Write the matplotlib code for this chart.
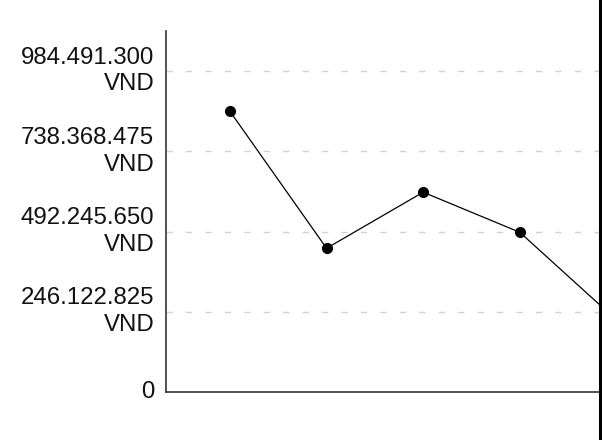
import matplotlib
matplotlib.use('Agg')
import matplotlib.pyplot as plt
from matplotlib.lines import Line2D

# values (VND); last point sits past the right edge
values = [861000000, 441000000, 613000000, 490000000, 221000000]
x_pos = list(range(len(values)))
tick_step = 246122825
tick_values = [0, tick_step, 2 * tick_step, 3 * tick_step, 4 * tick_step]
tick_labels = ['0', '246.122.825\nVND', '492.245.650\nVND', '738.368.475\nVND', '984.491.300\nVND']

plt.rcParams['font.family'] = ['Liberation Sans', 'DejaVu Sans']

fig = plt.figure(figsize=(6.02, 4.40), dpi=100)
ax = fig.add_axes([166 / 602, 48 / 440, 547 / 602, 361 / 440])

ax.plot(x_pos, values, color='black', linewidth=0.9, marker='o', markersize=7,
        clip_on=False, zorder=3)

ax.set_xlim(-0.662, 5)
ax.set_ylim(0, 4.5 * tick_step)

ax.set_yticks(tick_values)
ax.set_yticklabels(tick_labels, fontsize=17.3, color='#111111', va='center',
                   ha='right', linespacing=1.28)
ax.tick_params(axis='y', length=0, pad=8.5)
ax.set_xticks([])

for v in tick_values[1:]:
    ax.axhline(v, color='#d2d2d2', linewidth=1.0, linestyle=(0, (4.5, 9.5)), zorder=1)

for side in ['top', 'right']:
    ax.spines[side].set_visible(False)
for side in ['left', 'bottom']:
    ax.spines[side].set_color('#333333')
    ax.spines[side].set_linewidth(1.2)

# dark border along the right edge of the picture
fig.add_artist(Line2D([0.9975, 0.9975], [0, 1], transform=fig.transFigure,
                      color='black', linewidth=2.2))

fig.savefig('out.png', dpi=100)
